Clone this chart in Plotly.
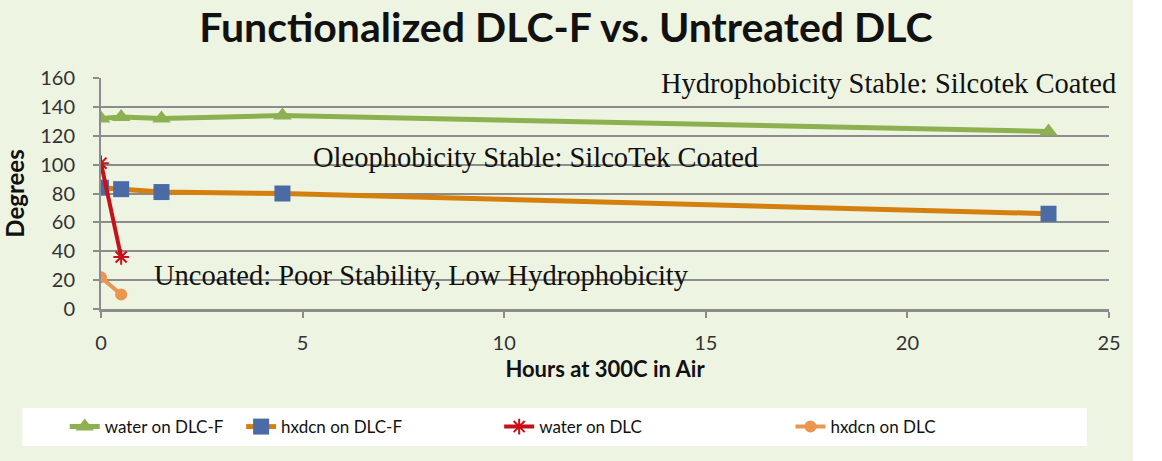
import plotly.graph_objects as go

# data
hours_f = [0, 0.5, 1.5, 4.5, 23.5]
water_dlcf = [132, 133, 132, 134, 123]
hxdcn_dlcf = [84, 83, 81, 80, 66]

hours_u = [0, 0.5]
water_dlc = [101, 36]
hxdcn_dlc = [22, 10]

x_ticks = [0, 5, 10, 15, 20, 25]
y_ticks = [0, 20, 40, 60, 80, 100, 120, 140, 160]

AX_FONT = "Lato, 'Open Sans', Arial, sans-serif"
SERIF = "'Liberation Serif', 'DejaVu Serif', serif"

fig = go.Figure()

fig.add_trace(go.Scatter(
    x=hours_f, y=water_dlcf, name="water on DLC-F", mode="lines+markers",
    line=dict(color="#8db051", width=5),
    marker=dict(symbol="triangle-up", size=16, color="#8db051"),
    legend="legend",
))
fig.add_trace(go.Scatter(
    x=hours_f, y=hxdcn_dlcf, name="hxdcn on DLC-F", mode="lines+markers",
    line=dict(color="#d57f0e", width=5),
    marker=dict(symbol="square", size=16, color="#4a6ba5"),
    legend="legend2",
))
fig.add_trace(go.Scatter(
    x=hours_u, y=water_dlc, name="water on DLC", mode="lines+markers",
    line=dict(color="#c8101a", width=4),
    marker=dict(symbol="asterisk-open", size=13, line=dict(color="#c8101a", width=2)),
    legend="legend3",
))
fig.add_trace(go.Scatter(
    x=hours_u, y=hxdcn_dlc, name="hxdcn on DLC", mode="lines+markers",
    line=dict(color="#ea9550", width=4),
    marker=dict(symbol="circle", size=12, color="#ea9550"),
    legend="legend4",
))

notes = [
    ("Hydrophobicity Stable: Silcotek Coated", 25, 156.5, "right", 9),
    ("Oleophobicity Stable: SilcoTek Coated", 5.2, 104.6, "left", 0),
    ("Uncoated: Poor Stability, Low Hydrophobicity", 1.27, 22.9, "left", 0),
]
for txt, xx, yy, anc, shift in notes:
    fig.add_annotation(x=xx, y=yy, xref="x", yref="y", text=txt, showarrow=False,
                       xanchor=anc, yanchor="middle", xshift=shift,
                       font=dict(family=SERIF, size=28.5, color="#111111"))

# white legend box and the white strip at the right edge
fig.add_shape(type="rect", xref="paper", yref="paper", x0=-0.078, x1=0.978,
              y0=-0.593, y1=-0.429, fillcolor="white", line_width=0, layer="below")
fig.add_shape(type="rect", xref="paper", yref="paper", x0=1.024, x1=1.06,
              y0=-0.7, y1=1.4, fillcolor="white", line_width=0, layer="below")

leg_common = dict(orientation="h", yanchor="middle", y=-0.511, xanchor="left",
                  bgcolor="rgba(0,0,0,0)", font=dict(family=AX_FONT, size=17, color="#111"))

fig.update_layout(
    width=1162, height=461,
    margin=dict(l=101, r=53, t=78, b=152),
    paper_bgcolor="#eef4e2",
    plot_bgcolor="rgba(0,0,0,0)",
    showlegend=True,
    title=dict(text="<b>Functionalized DLC-F vs. Untreated DLC</b>", x=0.487, xanchor="center",
               y=0.94, yanchor="middle",
               font=dict(family=AX_FONT, size=41, color="#111111")),
    legend=dict(x=-0.036, **leg_common),
    legend2=dict(x=0.139, **leg_common),
    legend3=dict(x=0.395, **leg_common),
    legend4=dict(x=0.684, **leg_common),
    xaxis=dict(
        range=[0, 25], tickvals=x_ticks, showgrid=False, zeroline=False,
        showline=True, linecolor="#8c8c8c", linewidth=3,
        ticks="outside", ticklen=6, tickwidth=2, tickcolor="#8c8c8c",
        ticklabelstandoff=8,
        tickfont=dict(family=AX_FONT, size=20, color="#333"),
        title=dict(text="<b>Hours at 300C in Air</b>", standoff=9,
                   font=dict(family=AX_FONT, size=22, color="#111")),
    ),
    yaxis=dict(
        range=[0, 160], tickvals=y_ticks, showgrid=True, gridcolor="#8c8c8c", gridwidth=2,
        zeroline=False, showline=True, linecolor="#8c8c8c", linewidth=2,
        ticks="outside", ticklen=6, tickwidth=2, tickcolor="#8c8c8c",
        ticklabelstandoff=14,
        tickfont=dict(family=AX_FONT, size=20, color="#333"),
        title=dict(text="<b>Degrees</b>", standoff=12,
                   font=dict(family=AX_FONT, size=24, color="#111")),
    ),
)

fig.write_html("out.html", config={"displayModeBar": False},
               post_script="document.body.style.margin='0';")
